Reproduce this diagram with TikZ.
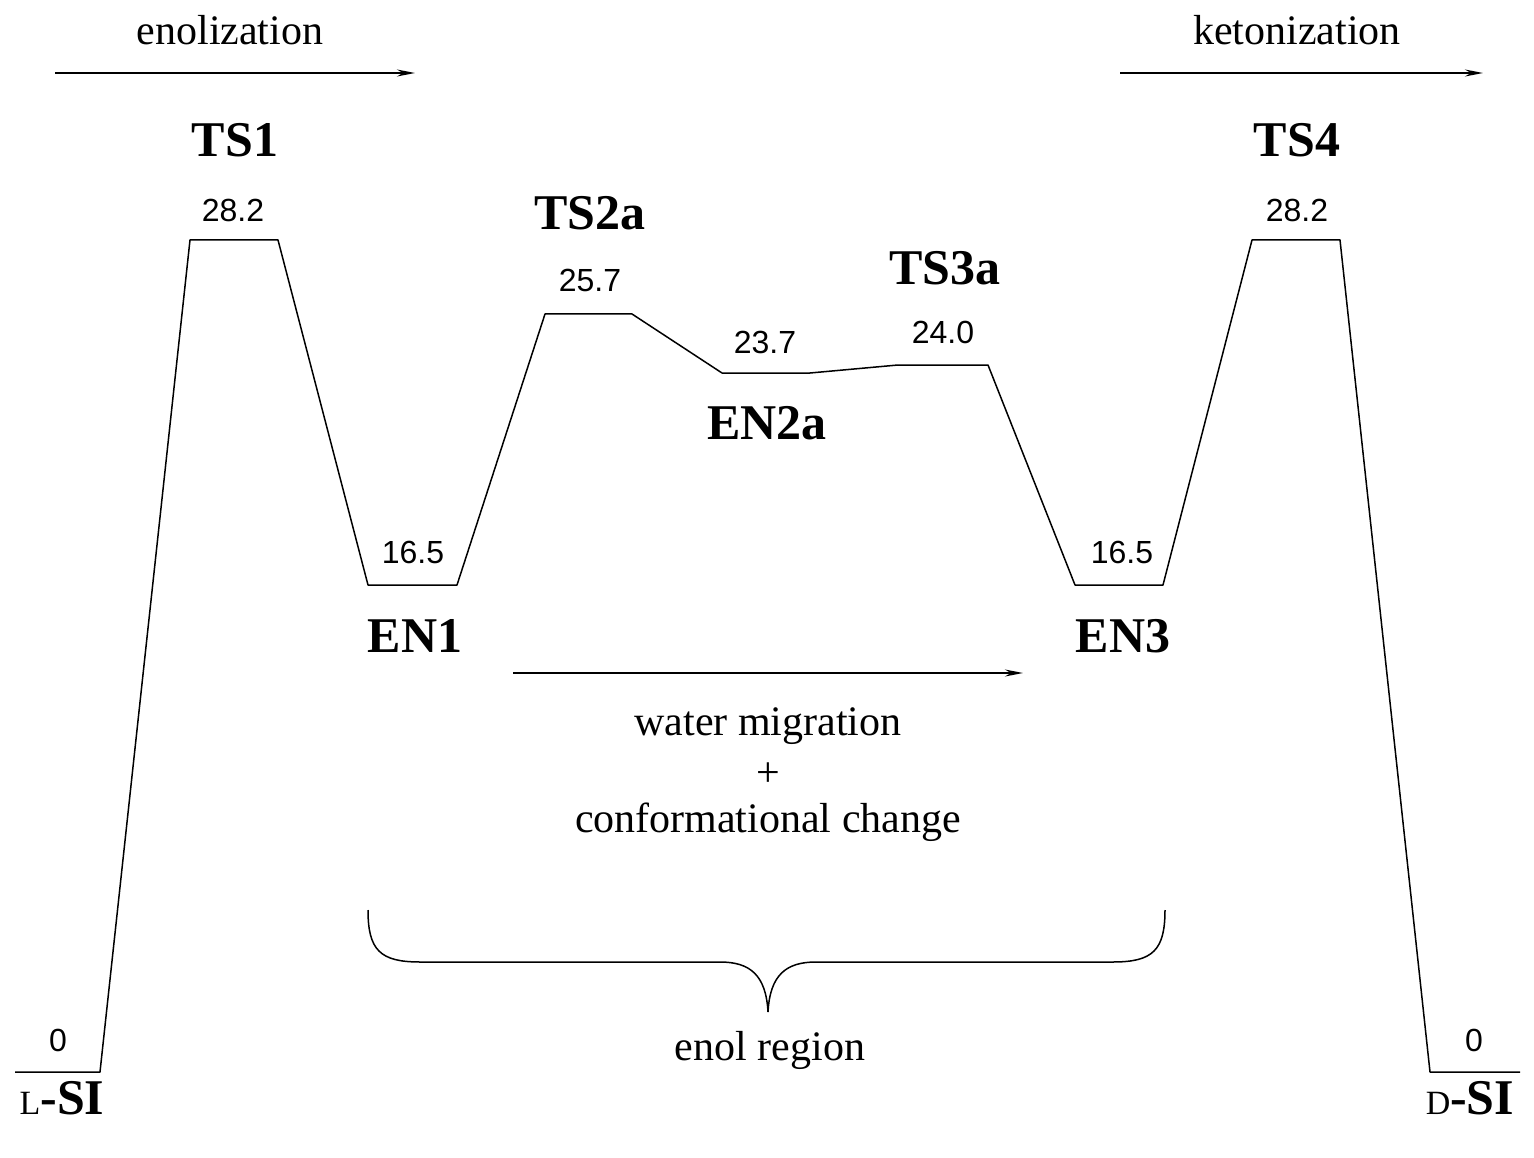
\documentclass[tikz,border=0pt]{standalone}
\usepackage{fontspec}
\setmainfont{Liberation Serif}
\newfontfamily\numfont{Liberation Sans}
\usetikzlibrary{arrows.meta}
\begin{document}
\begin{tikzpicture}[x=1pt,y=-1pt,
  lvl/.style={line width=1.5pt},
  num/.style={font=\numfont\fontsize{32}{36}\selectfont},
  lab/.style={font=\fontsize{50}{56}\selectfont\bfseries},
  txt/.style={font=\fontsize{42}{48}\selectfont},
  arr/.style={line width=1.5pt,-{Stealth[length=18pt,width=7pt]}}]
\useasboundingbox (0,0) rectangle (1534,1158);
% levels
\coordinate (a1) at (15,1072); \coordinate (a2) at (100,1072);
\coordinate (b1) at (190,240); \coordinate (b2) at (278,240);
\coordinate (c1) at (368,585); \coordinate (c2) at (457,585);
\coordinate (d1) at (545,314); \coordinate (d2) at (632,314);
\coordinate (e1) at (722,373); \coordinate (e2) at (810,373);
\coordinate (f1) at (898,365); \coordinate (f2) at (988,365);
\coordinate (g1) at (1075,585); \coordinate (g2) at (1163,585);
\coordinate (h1) at (1252,240); \coordinate (h2) at (1340,240);
\coordinate (i1) at (1430,1072); \coordinate (i2) at (1520,1072);
\draw[lvl,line join=round] (a1)--(a2)--(b1)--(b2)--(c1)--(c2)--(d1)--(d2)--(e1)--(e2)--(f1)--(f2)--(g1)--(g2)--(h1)--(h2)--(i1)--(i2);
% labels
\node[lab] (ts1) at (235,140) {TS1};
\node[num] (n1) at (233,210) {28.2};
\node[lab] (ts2) at (590,213) {TS2a};
\node[num] (n2) at (590,280) {25.7};
\node[lab] (ts3) at (945,268) {TS3a};
\node[num] (n3) at (943,332) {24.0};
\node[num] (n4) at (765,342) {23.7};
\node[lab] (en2) at (767,423) {EN2a};
\node[num] (n5) at (413,552) {16.5};
\node[lab] (en1) at (415,636) {EN1};
\node[num] (n6) at (1122,552) {16.5};
\node[lab] (en3) at (1123,636) {EN3};
\node[lab] (ts4) at (1297,140) {TS4};
\node[num] (n7) at (1297,210) {28.2};
\node[num] (n0) at (58,1040) {0};
\node[num] (n8) at (1474,1040) {0};
\node[lab] (lsi) at (62,1098) {{\mdseries\fontsize{34}{40}\selectfont L}-SI};
\node[lab] (dsi) at (1470,1098) {{\mdseries\fontsize{34}{40}\selectfont D}-SI};
% arrows
\node[txt] (eno) at (230,30) {enolization};
\coordinate (ea1) at (55,73); \coordinate (ea2) at (415,73);
\draw[arr] (ea1)--(ea2);
\node[txt] (ket) at (1297,30) {ketonization};
\coordinate (ka1) at (1120,73); \coordinate (ka2) at (1483,73);
\draw[arr] (ka1)--(ka2);
\coordinate (ma1) at (513,673); \coordinate (ma2) at (1023,673);
\draw[arr] (ma1)--(ma2);
\node[txt] (w1) at (768,726) {water migration};
\node[txt] (w2) at (768,775) {+};
\node[txt] (w3) at (768,822) {conformational change};
% brace
\coordinate (br1) at (368,910); \coordinate (br2) at (1165,910); \coordinate (tip) at (768,1012);
\draw[line width=1.5pt] (br1) .. controls (368,950) and (380,962) .. (420,962)
  -- (720,962) .. controls (750,962) and (766,975) .. (tip)
  .. controls (770,975) and (786,962) .. (816,962) -- (1113,962)
  .. controls (1153,962) and (1165,950) .. (br2);
\node[txt] (enol) at (770,1050) {enol region};
\end{tikzpicture}
\end{document}
